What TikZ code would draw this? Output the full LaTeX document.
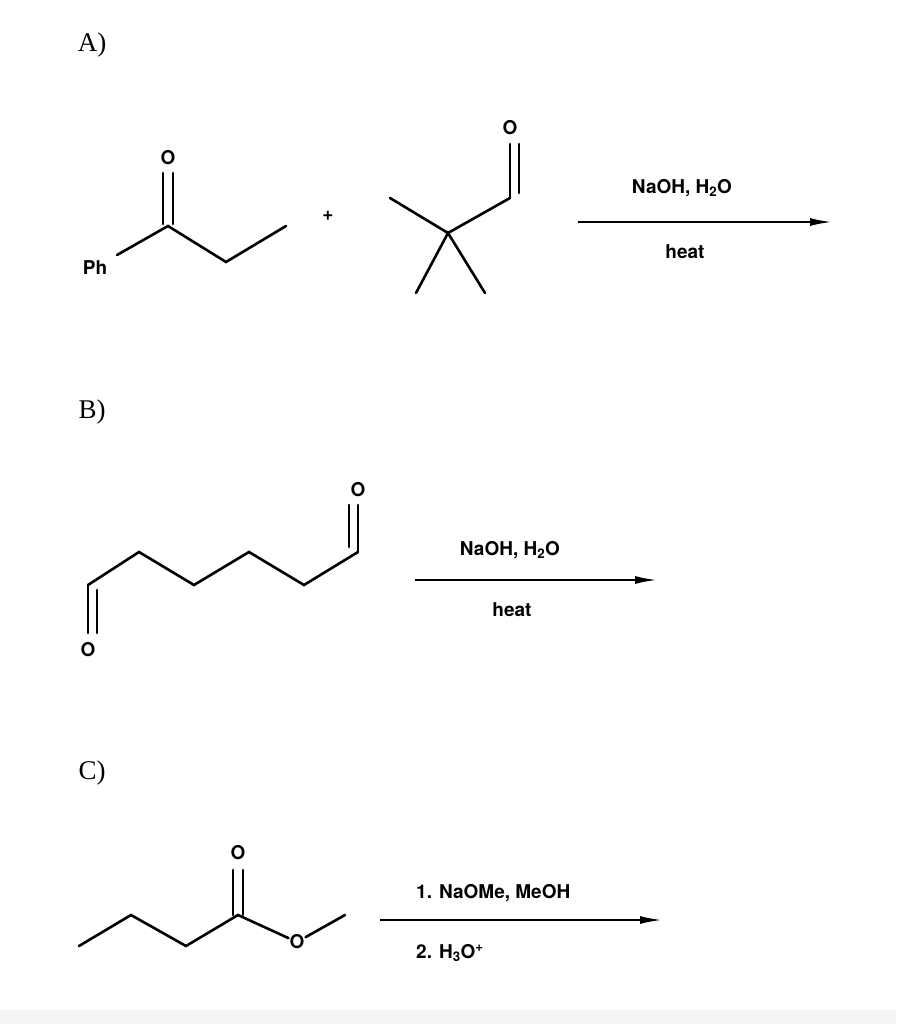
\documentclass[tikz,border=0pt]{standalone}
\usepackage{fontspec}
\setmainfont{Liberation Serif}
\setsansfont{TeX Gyre Heros}
\usetikzlibrary{arrows.meta}
\begin{document}
\begin{tikzpicture}[x=1pt,y=-1pt,
  bond/.style={line width=2.6pt,line cap=round},
  atom/.style={font=\sffamily\bfseries\fontsize{19}{19}\selectfont,inner sep=1pt},
  reag/.style={font=\sffamily\bfseries\fontsize{19}{19}\selectfont,inner sep=1pt},
  lab/.style={font=\fontsize{27}{27}\selectfont,inner sep=0pt},
  rxn/.style={line width=2pt,-{Latex[length=22pt,width=8pt]}}]
\useasboundingbox (0,0) rectangle (896,1024);
\fill[white] (0,0) rectangle (896,1024);
\fill[black!4] (0,1010) rectangle (896,1024);
% labels
\node[lab] (la) at (92,45) {A)};
\node[lab] (lb) at (92,412) {B)};
\node[lab] (lc) at (92,773) {C)};
% A left
\node[atom] (ph) at (95,268) {Ph};
\node[atom] (o1) at (168,158) {O};
\coordinate (c1) at (168,226);
\coordinate (c2) at (226,262);
\coordinate (c3) at (286,226);
\draw[bond] (117,255) -- (c1) -- (c2) -- (c3);
\draw[bond] (163,224) -- (163,173);
\draw[bond] (173,224) -- (173,173);
\node[atom] (plus) at (328,216) {+};
% A right
\coordinate (q) at (448,233);
\coordinate (m1) at (390,198);
\coordinate (m2) at (416,293);
\coordinate (m3) at (485,293);
\coordinate (cho) at (510,198);
\node[atom] (o2) at (510,128) {O};
\draw[bond] (m1) -- (q) -- (cho);
\draw[bond] (m2) -- (q) -- (m3);
\draw[bond] (510,198) -- (510,144);
\draw[bond] (519,193) -- (519,144);
\coordinate (a1s) at (578,222);
\coordinate (a1e) at (832,222);
\draw[rxn] (a1s) -- (a1e);
\node[reag] (r1) at (682,188) {NaOH, H\textsubscript{2}O};
\node[reag] (r2) at (685,252) {heat};
% B
\coordinate (b1) at (88,585);
\coordinate (b2) at (139,552);
\coordinate (b3) at (194,585);
\coordinate (b4) at (249,552);
\coordinate (b5) at (304,585);
\coordinate (b6) at (358,552);
\draw[bond] (b1) -- (b2) -- (b3) -- (b4) -- (b5) -- (b6);
\draw[bond] (88,585) -- (88,633);
\draw[bond] (97,590) -- (97,633);
\draw[bond] (358,552) -- (358,505);
\draw[bond] (349,547) -- (349,505);
\node[atom] (ob1) at (88,650) {O};
\node[atom] (ob2) at (358,490) {O};
\coordinate (a2s) at (415,580);
\coordinate (a2e) at (657,580);
\draw[rxn] (a2s) -- (a2e);
\node[reag] (r3) at (510,550) {NaOH, H\textsubscript{2}O};
\node[reag] (r4) at (512,610) {heat};
% C
\coordinate (d1) at (79,946);
\coordinate (d2) at (131,915);
\coordinate (d3) at (186,946);
\coordinate (d4) at (238,915);
\node[atom] (oe) at (297,942) {O};
\coordinate (d6) at (345,915);
\node[atom] (oc) at (238,853) {O};
\draw[bond] (d1) -- (d2) -- (d3) -- (d4) -- (oe) -- (d6);
\draw[bond] (233,915) -- (233,870);
\draw[bond] (243,915) -- (243,870);
\coordinate (a3s) at (380,920);
\coordinate (a3e) at (662,920);
\draw[rxn] (a3s) -- (a3e);
\node[reag,anchor=west] (r5) at (415,893) {1. NaOMe, MeOH};
\node[reag,anchor=west] (r6) at (415,953) {2. H\textsubscript{3}O\textsuperscript{+}};
\end{tikzpicture}
\end{document}
